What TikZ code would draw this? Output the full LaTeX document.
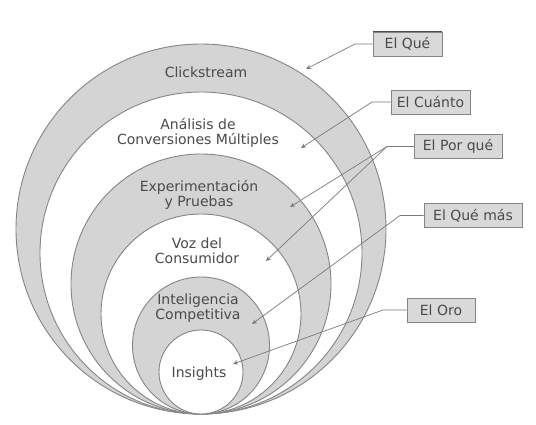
\documentclass[tikz,border=0pt]{standalone}
\usepackage{fontspec}
\setmainfont{DejaVu Sans}
\usetikzlibrary{arrows.meta}
\definecolor{ringgray}{HTML}{D4D4D4}
\definecolor{ringline}{HTML}{858585}
\definecolor{txtgray}{HTML}{4A4A4A}
\definecolor{boxgray}{HTML}{D9D9D9}
\definecolor{connline}{HTML}{7A7A7A}
\tikzset{
  graydisc/.style={fill=ringgray, draw=ringline, line width=0.9pt},
  whitedisc/.style={fill=white, draw=ringline, line width=0.9pt},
  ringtext/.style={text=txtgray, align=center, font=\fontsize{14}{15}\selectfont, inner sep=0pt},
  labelbox/.style={fill=boxgray, draw=ringline, line width=0.8pt, text=txtgray,
    font=\fontsize{14}{15}\selectfont, inner sep=0pt, minimum height=24pt},
  conn/.style={draw=connline, line width=0.7pt},
  tip/.style={-{Stealth[length=5pt,width=4.5pt]}},
}
\begin{document}
\begin{tikzpicture}[x=1pt,y=-1pt]
\useasboundingbox (0,0) rectangle (536,424);
\fill[white] (0,0) rectangle (536,424);
% nested circles, tangent at the bottom
\draw[graydisc]  (201,229)   circle (185pt);
\draw[whitedisc] (201,253)   circle (161pt);
\draw[graydisc]  (201,284)   circle (130pt);
\draw[whitedisc] (201,314)   circle (100pt);
\draw[graydisc]  (201,345.5) circle (68.5pt);
\draw[whitedisc] (201,372)   circle (42pt);
% ring texts
\node[ringtext] (t1) at (206,72)    {Clickstream};
\node[ringtext] (t2) at (198,132.5) {Análisis de\\Conversiones Múltiples};
\node[ringtext] (t3) at (199,195)   {Experimentación\\y Pruebas};
\node[ringtext] (t4) at (197,251)   {Voz del\\Consumidor};
\node[ringtext] (t5) at (198,308.5) {Inteligencia\\Competitiva};
\node[ringtext] (t6) at (199,374)   {Insights};
% label boxes
\node[labelbox, minimum width=69pt] (qe)  at (407.5,44)   {El Qué};
\draw[line width=1.4pt, draw=black!70] (qe.north west) -- (qe.north east);
\node[labelbox, minimum width=79pt] (cu)  at (430.5,102)  {El Cuánto};
\node[labelbox, minimum width=88pt] (pq)  at (458,146.5)  {El Por qué};
\node[labelbox, minimum width=98pt] (qm)  at (473,215.5)  {El Qué más};
\node[labelbox, minimum width=68pt] (oro) at (441,310)    {El Oro};
% connector bends and tips
\coordinate (qeb) at (355,44);   \coordinate (qet) at (306,69);
\coordinate (cub) at (372,102);  \coordinate (cut) at (301,148);
\coordinate (pqb) at (387,146.5);\coordinate (pqt1) at (290,207); \coordinate (pqt2) at (266,261);
\coordinate (qmb) at (400,215.5);\coordinate (qmt) at (252,324);
\coordinate (orob) at (383,310); \coordinate (orot) at (233,364);
% connectors
\draw[conn, tip] (qe.west) -- (qeb) -- (qet);
\draw[conn, tip] (cu.west) -- (cub) -- (cut);
\draw[conn] (pq.west) -- (pqb);
\draw[conn, tip] (pqb) -- (pqt1);
\draw[conn, tip] (pqb) -- (pqt2);
\draw[conn, tip] (qm.west) -- (qmb) -- (qmt);
\draw[conn, tip] (oro.west) -- (orob) -- (orot);
\end{tikzpicture}
\end{document}
